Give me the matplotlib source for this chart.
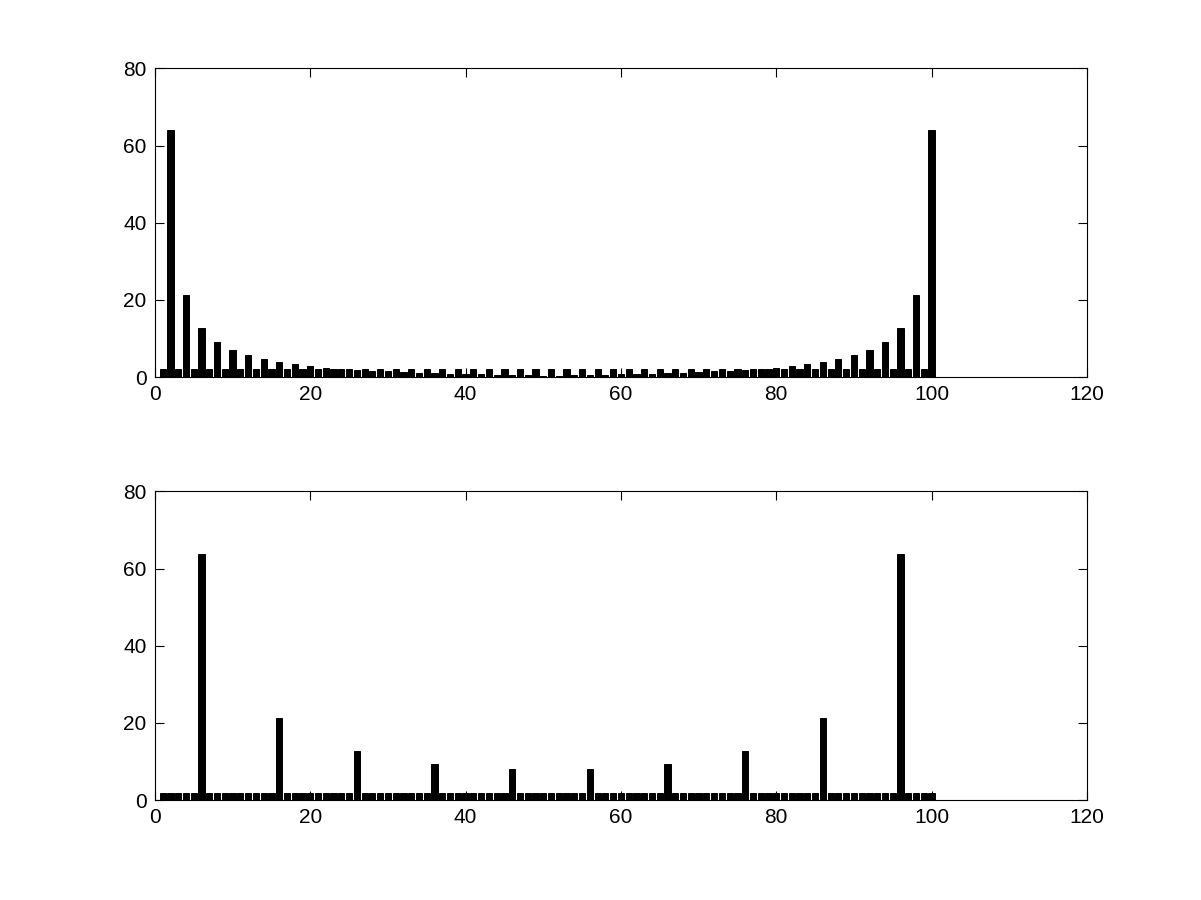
import matplotlib
matplotlib.use("Agg")
import matplotlib.pyplot as plt
import numpy as np

plt.rcParams['font.family'] = ['Liberation Sans', 'DejaVu Sans']

# top panel: bins 1..100, odd bins are flat, even bins form the U shape
x = np.arange(1, 101)
top_odd = [2.0] * 50
top_even = [64.0, 21.2, 12.7, 9.1, 7.0, 5.7, 4.7, 3.9, 3.3, 2.8,
            2.4, 2.1, 1.9, 1.7, 1.5, 1.3, 1.15, 1.0, 0.9, 0.8,
            0.7, 0.6, 0.5, 0.45, 0.4,
            0.4, 0.45, 0.5, 0.6, 0.7, 0.8, 0.9, 1.0, 1.15, 1.3,
            1.5, 1.7, 1.9, 2.1, 2.4, 2.8, 3.3, 3.9, 4.7, 5.7,
            7.0, 9.1, 12.7, 21.2, 64.0]

# bottom panel: flat floor with peaks every 10 bins
bottom_floor = 1.8
peak_bins = [6, 16, 26, 36, 46, 56, 66, 76, 86, 96]
peak_vals = [63.7, 21.2, 12.7, 9.3, 8.0, 8.0, 9.3, 12.7, 21.2, 63.7]

top = np.empty(100)
top[0::2] = top_odd
top[1::2] = top_even

bottom = np.full(100, bottom_floor)
for b, v in zip(peak_bins, peak_vals):
    bottom[b - 1] = v

xticks = [0, 20, 40, 60, 80, 100, 120]
yticks = [0, 20, 40, 60, 80]

fig = plt.figure(figsize=(12.01, 9), dpi=100, facecolor='white')
ax1 = fig.add_axes([0.129, 0.581, 0.776, 0.343])
ax2 = fig.add_axes([0.129, 0.111, 0.776, 0.343])

for ax, vals in [(ax1, top), (ax2, bottom)]:
    ax.bar(x, vals, width=0.8, color='black', edgecolor='black', linewidth=0.7)
    ax.set_xlim(0, 120)
    ax.set_ylim(0, 80)
    ax.set_xticks(xticks)
    ax.set_yticks(yticks)
    ax.tick_params(direction='in', length=6.5, width=0.8, top=True, right=True,
                   labelsize=15, pad=6)
    for s in ax.spines.values():
        s.set_linewidth(0.8)

fig.savefig('out.png', dpi=100, facecolor='white')
